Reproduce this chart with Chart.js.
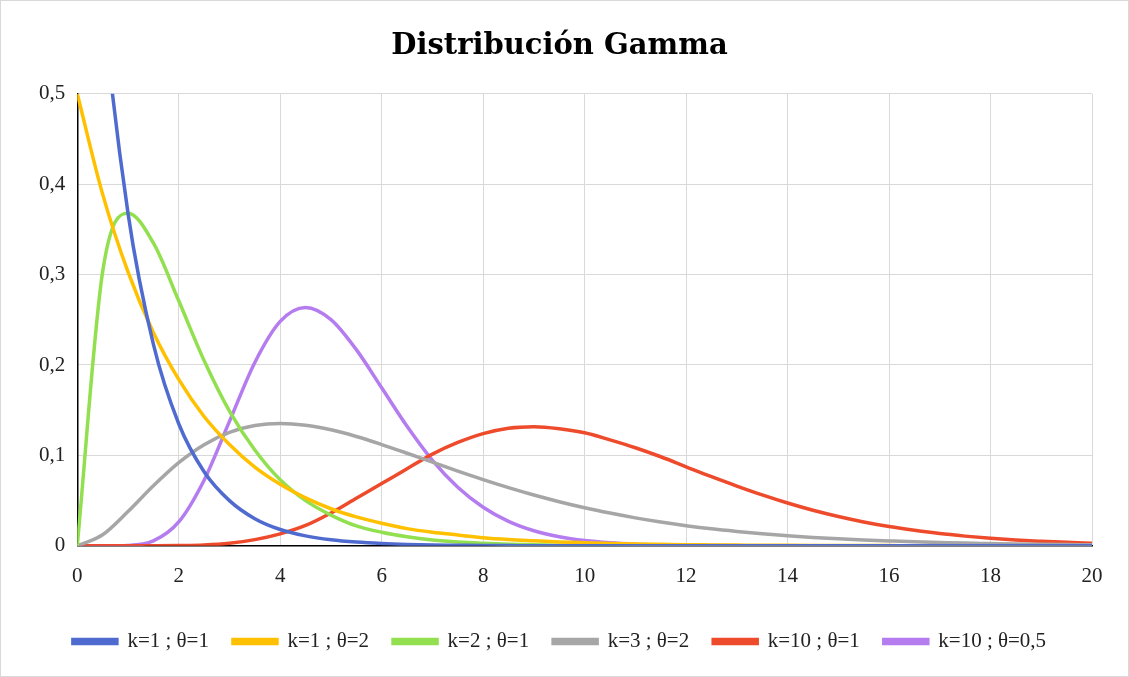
<!DOCTYPE html>
<html>
<head>
<meta charset="utf-8">
<script src="https://cdn.jsdelivr.net/npm/chart.js@4/dist/chart.umd.min.js"></script>
<style>
  html, body { margin: 0; padding: 0; background: #fff; }
  #wrap { position: absolute; left: 0; top: 0; width: 1127px; height: 675px; border: 1px solid #d9d9d9; }
</style>
</head>
<body>
<div id="wrap"><canvas id="chart"></canvas></div>
<script>
// x positions (step 0.5 from 0 to 20)
const xs = [0,0.5,1,1.5,2,2.5,3,3.5,4,4.5,5,5.5,6,6.5,7,7.5,8,8.5,9,9.5,10,
  10.5,11,11.5,12,12.5,13,13.5,14,14.5,15,15.5,16,16.5,17,17.5,18,18.5,19,19.5,20];

const k1t1 = [1,0.607,0.368,0.223,0.135,0.082,0.050,0.030,0.018,0.011,0.0067,0.0041,0.0025,0.0015,0.0009,0.0006,0.0003,0.0002,0.0001,0.0001,0,
  0,0,0,0,0,0,0,0,0,0,0,0,0,0,0,0,0,0,0,0];
const k1t2 = [0.5,0.389,0.303,0.236,0.184,0.143,0.112,0.087,0.068,0.053,0.041,0.032,0.025,0.019,0.015,0.012,0.009,0.007,0.0056,0.0043,0.0034,
  0.0026,0.002,0.0016,0.0012,0.001,0.0008,0.0006,0.0005,0.0004,0.0003,0.0002,0.0002,0.0001,0.0001,0.0001,0.0001,0,0,0,0];
const k2t1 = [0,0.303,0.368,0.335,0.271,0.205,0.149,0.106,0.073,0.050,0.034,0.022,0.015,0.010,0.0064,0.0041,0.0027,0.0017,0.0011,0.0007,0.0005,
  0.0003,0.0002,0.0001,0.0001,0,0,0,0,0,0,0,0,0,0,0,0,0,0,0,0];
const k3t2 = [0,0.0122,0.0379,0.0664,0.0920,0.1119,0.1255,0.1330,0.1353,0.1334,0.1283,0.1209,0.1120,0.1024,0.0925,0.0827,0.0733,0.0644,0.0562,0.0488,0.0421,
  0.0362,0.0309,0.0263,0.0223,0.0188,0.0159,0.0133,0.0112,0.0093,0.0078,0.0065,0.0054,0.0044,0.0037,0.0030,0.0025,0.0020,0.0017,0.0014,0.0011];
const k10t1 = [0,0,0.000001,0.00003,0.0002,0.0008,0.0027,0.0068,0.0132,0.0225,0.0363,0.0526,0.0688,0.0852,0.1014,0.1143,0.1241,0.1301,0.1318,0.1296,0.1251,
  0.1172,0.1085,0.0985,0.0874,0.0764,0.0661,0.0563,0.0473,0.0393,0.0324,0.0264,0.0213,0.0171,0.0135,0.0107,0.0083,0.0064,0.0050,0.0038,0.0029];
const k10t05 = [0,0,0.0004,0.0054,0.0264,0.0726,0.1376,0.2028,0.2482,0.2636,0.2502,0.2170,0.1748,0.1322,0.0946,0.0648,0.0426,0.0270,0.0166,0.0100,0.0058,
  0.0033,0.0018,0.001,0.0005,0.0003,0.0001,0,0,0,0,0,0,0,0,0,0,0,0,0,0];

const names = ['k=1 ; θ=1','k=1 ; θ=2','k=2 ; θ=1','k=3 ; θ=2','k=10 ; θ=1','k=10 ; θ=0,5'];
const colors = ['#4f6bcf','#ffc000','#92e04f','#a6a6a6','#ee4a2c','#b57cef'];
const series = [k1t1, k1t2, k2t1, k3t2, k10t1, k10t05];

const serif = '"DejaVu Serif", "Liberation Serif", serif';

new Chart(document.getElementById('chart'), {
  type: 'line',
  data: {
    datasets: series.map((s, i) => ({
      label: names[i],
      data: xs.map((x, j) => ({ x: x, y: s[j] })),
      borderColor: colors[i],
      backgroundColor: colors[i],
      borderWidth: 3.5,
      pointRadius: 0,
      cubicInterpolationMode: 'monotone',
      fill: false
    }))
  },
  options: {
    responsive: true,
    maintainAspectRatio: false,
    animation: false,
    layout: { padding: { left: 26, right: 36, top: 28, bottom: 14 } },
    plugins: {
      title: {
        display: true,
        text: 'Distribución Gamma',
        color: '#000',
        font: { family: serif, size: 29, weight: 'bold' },
        padding: { top: 0, bottom: 30 }
      },
      legend: {
        position: 'bottom',
        labels: {
          color: '#222',
          font: { family: '"Liberation Serif", serif', size: 21 },
          boxWidth: 44,
          boxHeight: 4,
          padding: 24
        }
      },
      tooltip: { enabled: false }
    },
    scales: {
      x: {
        type: 'linear',
        min: 0, max: 20,
        ticks: { stepSize: 2, color: '#222', font: { family: '"Liberation Serif", serif', size: 21 }, padding: 18 },
        grid: { color: '#d9d9d9', drawTicks: false },
        border: { color: '#000', width: 1.5 }
      },
      y: {
        min: 0, max: 0.5,
        ticks: {
          stepSize: 0.1, color: '#222', padding: 12,
          font: { family: '"Liberation Serif", serif', size: 21 },
          callback: v => v === 0 ? '0' : v.toFixed(1).replace('.', ',')
        },
        grid: { color: '#d9d9d9', drawTicks: false },
        border: { color: '#000', width: 1.5 }
      }
    }
  }
});
</script>
</body>
</html>
